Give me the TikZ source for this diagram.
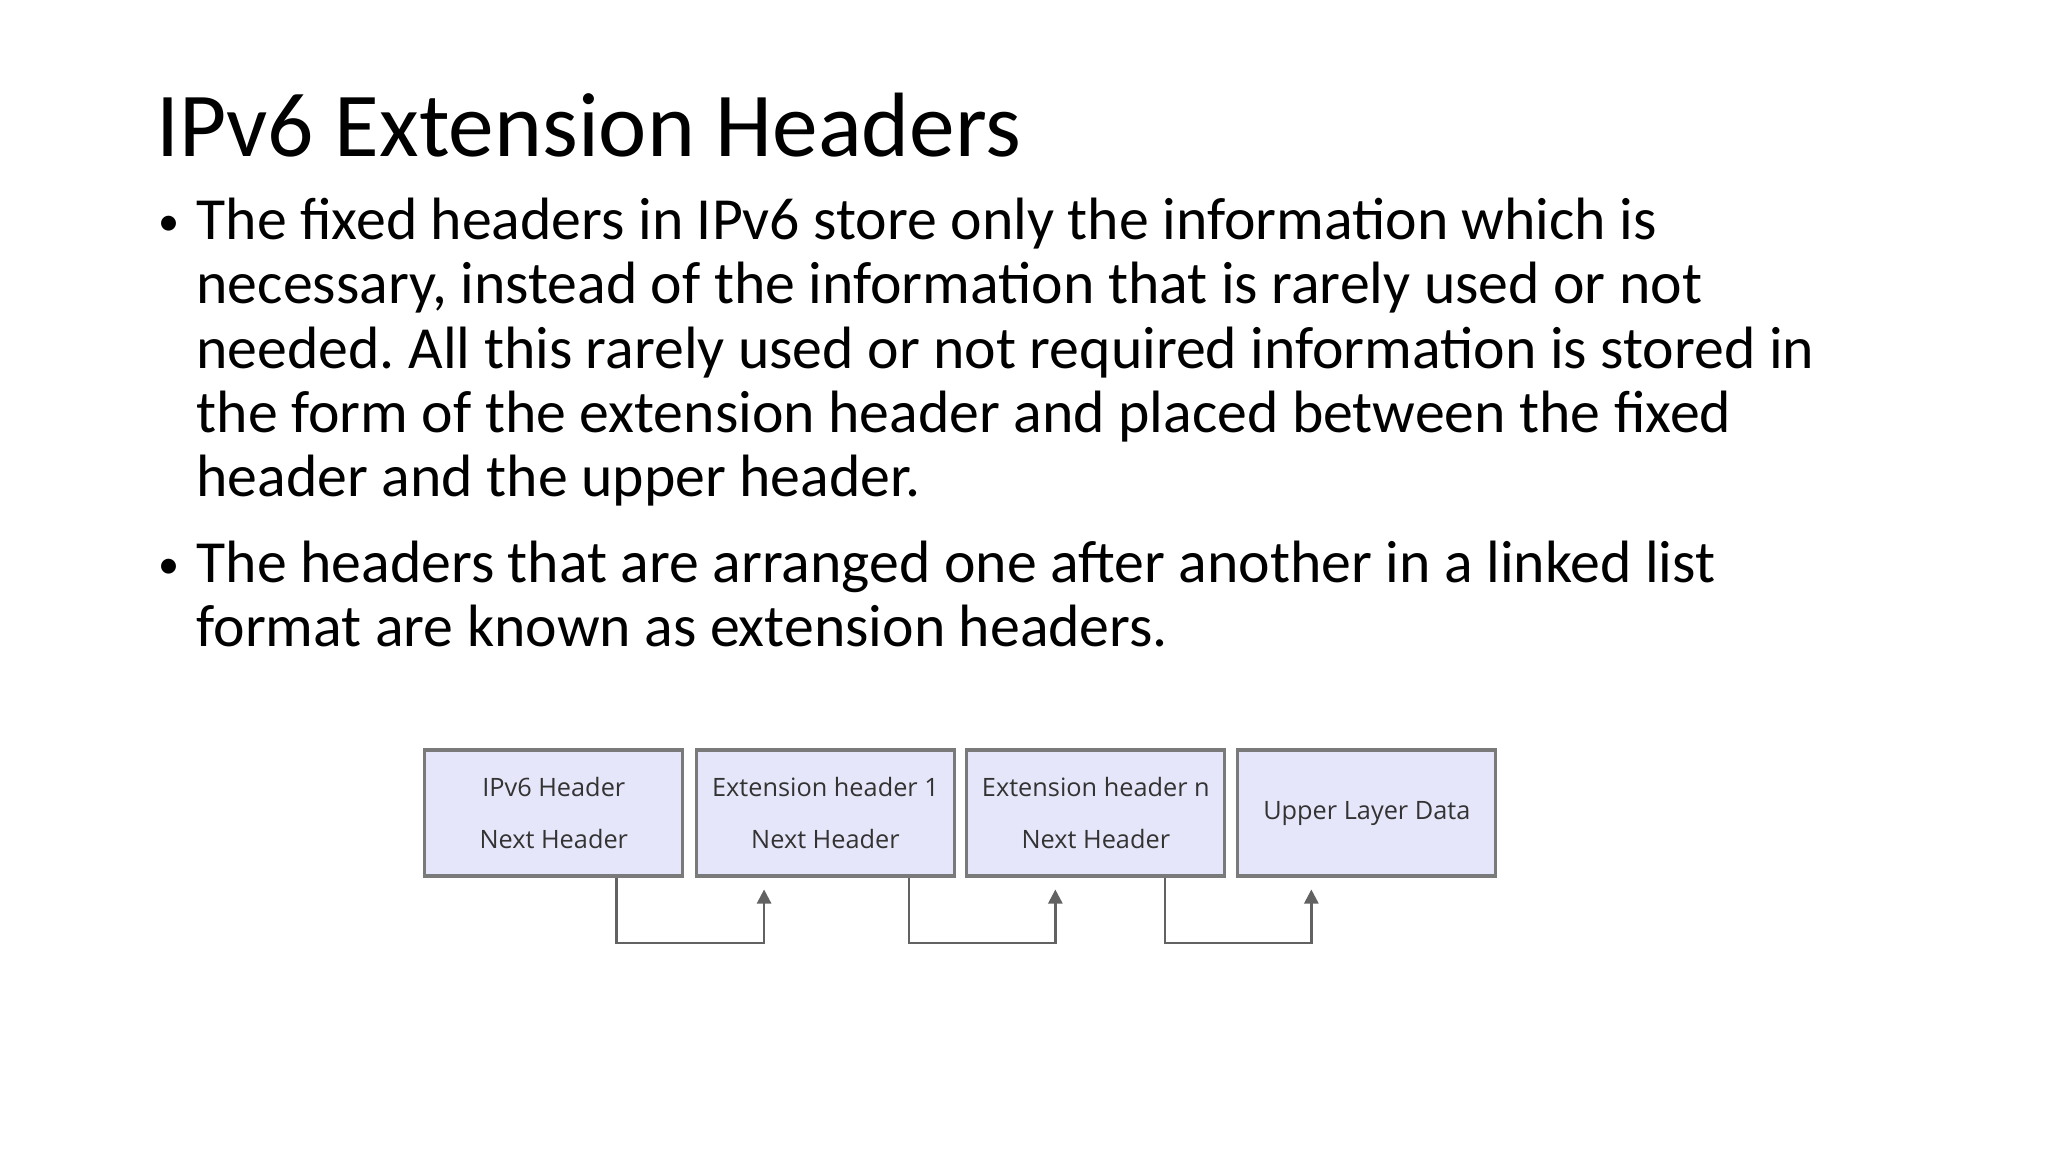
\documentclass[tikz,border=0pt]{standalone}
\usepackage{fontspec}
\setmainfont{Carlito}
\newfontfamily\boxfont{Open Sans}
\usetikzlibrary{positioning,arrows.meta}
\definecolor{boxfill}{HTML}{E6E6FA}
\definecolor{boxline}{HTML}{7A7A7A}
\definecolor{boxtext}{HTML}{333333}
\frenchspacing
\tikzset{
  hdr/.style={draw=boxline, fill=boxfill, line width=0.9pt, minimum width=2.58cm, minimum height=1.26cm, align=center, text=boxtext, font=\boxfont\fontsize{7.2}{15}\selectfont},
  link/.style={draw=boxline!80!black, line width=0.7pt, -{Triangle[length=4pt,width=4pt]}},
  body/.style={anchor=base west, font=\fontsize{17}{20}\selectfont}
}
\begin{document}
\begin{tikzpicture}[x=0.01306cm, y=-0.01306cm]
  \useasboundingbox (0,0) rectangle (1568,882);
  % title and bullets
  \node[anchor=base west, inner sep=0, font=\fontsize{26}{30}\selectfont] (title) at (119,120) {IPv6 Extension Headers};
  \node[body, inner sep=0, font=\fontsize{12}{14}\selectfont] (b1) at (121,180) {•};
  \node[body, inner sep=0] (t1) at (150,183) {The fixed headers in IPv6 store only the information which is};
  \node[body, inner sep=0] (t2) at (150,232) {necessary, instead of the information that is rarely used or not};
  \node[body, inner sep=0] (t3) at (150,282) {needed. All this rarely used or not required information is stored in};
  \node[body, inner sep=0] (t4) at (150,331) {the form of the extension header and placed between the fixed};
  \node[body, inner sep=0] (t5) at (150,380) {header and the upper header.};
  \node[body, inner sep=0, font=\fontsize{12}{14}\selectfont] (b2) at (121,443) {•};
  \node[body, inner sep=0] (t6) at (150,446) {The headers that are arranged one after another in a linked list};
  \node[body, inner sep=0] (t7) at (150,495) {format are known as extension headers.};
  % header chain
  \node[hdr] (ipv6) at (424,622.5) {IPv6 Header\\Next Header};
  \node[hdr] (ext1) at (632,622.5) {Extension header 1\\Next Header};
  \node[hdr] (extn) at (839,622.5) {Extension header n\\Next Header};
  \node[hdr] (upper) at (1046.5,622.5) {Upper Layer Data};
  \coordinate (c1) at (472,722);
  \coordinate (c2) at (696,722);
  \coordinate (c3) at (892,722);
  \draw[link] (ipv6.south -| c1) -- (c1) -- (c1 -| 585,0) -- (585,681);
  \draw[link] (ext1.south -| c2) -- (c2) -- (c2 -| 808,0) -- (808,681);
  \draw[link] (extn.south -| c3) -- (c3) -- (c3 -| 1004,0) -- (1004,681);
\end{tikzpicture}
\end{document}
